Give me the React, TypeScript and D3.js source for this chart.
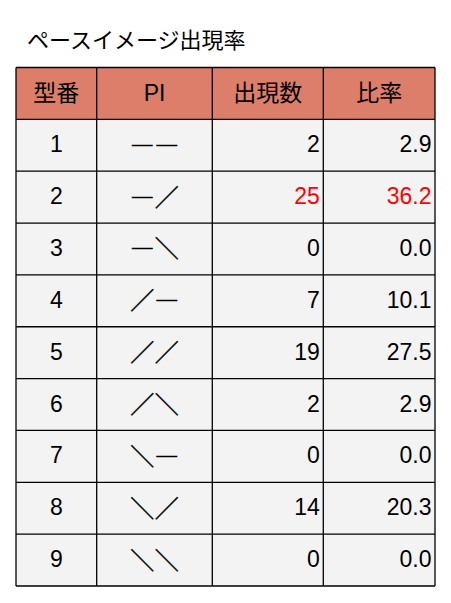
import { useEffect, useRef } from "react";
import * as d3 from "d3";

const title = "ペースイメージ出現率";
const headers = ["型番", "PI", "出現数", "比率"];
const types = ["1", "2", "3", "4", "5", "6", "7", "8", "9"];
const patterns = ["――", "―／", "―＼", "／―", "／／", "／＼", "＼―", "＼／", "＼＼"];
const counts = [2, 25, 0, 7, 19, 2, 0, 14, 0];
const ratios = [2.9, 36.2, 0.0, 10.1, 27.5, 2.9, 0.0, 20.3, 0.0];
const highlight = "2";

const FONT = "'Liberation Sans', Arial, 'Noto Sans CJK JP', sans-serif";

export default function App() {
  const svgRef = useRef<SVGSVGElement>(null);

  useEffect(() => {
    const width = 451;
    const height = 603;
    const svg = d3.select(svgRef.current);
    svg.selectAll("*").remove();
    svg.attr("width", width).attr("height", height).style("background", "#fff");

    // column edges
    const colEdges = [16, 96.7, 212.3, 323.3, 435];

    const y = d3
      .scaleBand()
      .domain(["header", ...types])
      .range([67.5, 586])
      .padding(0);

    svg
      .append("text")
      .attr("x", 27)
      .attr("y", 48)
      .attr("font-family", FONT)
      .attr("font-size", 22)
      .attr("fill", "#000")
      .text(title);

    // header background
    svg
      .append("rect")
      .attr("x", colEdges[0])
      .attr("y", y("header")!)
      .attr("width", colEdges[4] - colEdges[0])
      .attr("height", y.bandwidth())
      .attr("fill", "#dd7e6b");

    // body background
    svg
      .append("rect")
      .attr("x", colEdges[0])
      .attr("y", y(types[0])!)
      .attr("width", colEdges[4] - colEdges[0])
      .attr("height", y.bandwidth() * types.length)
      .attr("fill", "#f3f3f3");

    const mid = (i: number) => (colEdges[i] + colEdges[i + 1]) / 2;

    // header texts
    svg
      .append("g")
      .selectAll("text")
      .data(headers)
      .join("text")
      .attr("x", (_, i) => mid(i))
      .attr("y", y("header")! + y.bandwidth() / 2 + 8)
      .attr("text-anchor", "middle")
      .attr("font-family", FONT)
      .attr("font-size", 23)
      .attr("fill", "#000")
      .text((d) => d);

    const rows = svg
      .append("g")
      .selectAll("g")
      .data(types)
      .join("g")
      .attr("transform", (d) => `translate(0, ${y(d)! + y.bandwidth() / 2})`);

    rows
      .append("text")
      .attr("x", mid(0))
      .attr("y", 7)
      .attr("text-anchor", "middle")
      .attr("font-family", FONT)
      .attr("font-size", 23)
      .text((d) => d);

    // PI pattern glyphs, one per character so they stay apart
    rows
      .append("text")
      .attr("y", 8.5)
      .attr("font-family", "'Noto Sans CJK JP', sans-serif")
      .attr("font-size", 24)
      .attr("text-anchor", "middle")
      .attr("stroke", "#000")
      .attr("stroke-width", 0.4)
      .selectAll("tspan")
      .data((_, i) => Array.from(patterns[i]))
      .join("tspan")
      .attr("x", (_, j) => mid(1) + (j - 0.5) * 24.5)
      .text((c) => c);

    rows
      .append("text")
      .attr("x", colEdges[3] - 3.5)
      .attr("y", 7)
      .attr("text-anchor", "end")
      .attr("font-family", FONT)
      .attr("font-size", 23)
      .attr("fill", (d) => (d === highlight ? "#ff0000" : "#000"))
      .text((_, i) => counts[i]);

    rows
      .append("text")
      .attr("x", colEdges[4] - 3.5)
      .attr("y", 7)
      .attr("text-anchor", "end")
      .attr("font-family", FONT)
      .attr("font-size", 23)
      .attr("fill", (d) => (d === highlight ? "#ff0000" : "#000"))
      .text((_, i) => ratios[i].toFixed(1));

    // grid lines
    const grid = svg.append("g").attr("stroke", "#000").attr("stroke-width", 1.3);
    const hLines = [...y.domain().map((d) => y(d)!), y.range()[1]];
    grid
      .selectAll("line.h")
      .data(hLines)
      .join("line")
      .attr("class", "h")
      .attr("x1", colEdges[0])
      .attr("x2", colEdges[4])
      .attr("y1", (d) => d)
      .attr("y2", (d) => d);
    grid
      .selectAll("line.v")
      .data(colEdges)
      .join("line")
      .attr("class", "v")
      .attr("x1", (d) => d)
      .attr("x2", (d) => d)
      .attr("y1", y.range()[0])
      .attr("y2", y.range()[1]);
  }, []);

  return (
    <div style={{ position: "absolute", left: 0, top: 0 }}>
      <svg ref={svgRef}></svg>
    </div>
  );
}
